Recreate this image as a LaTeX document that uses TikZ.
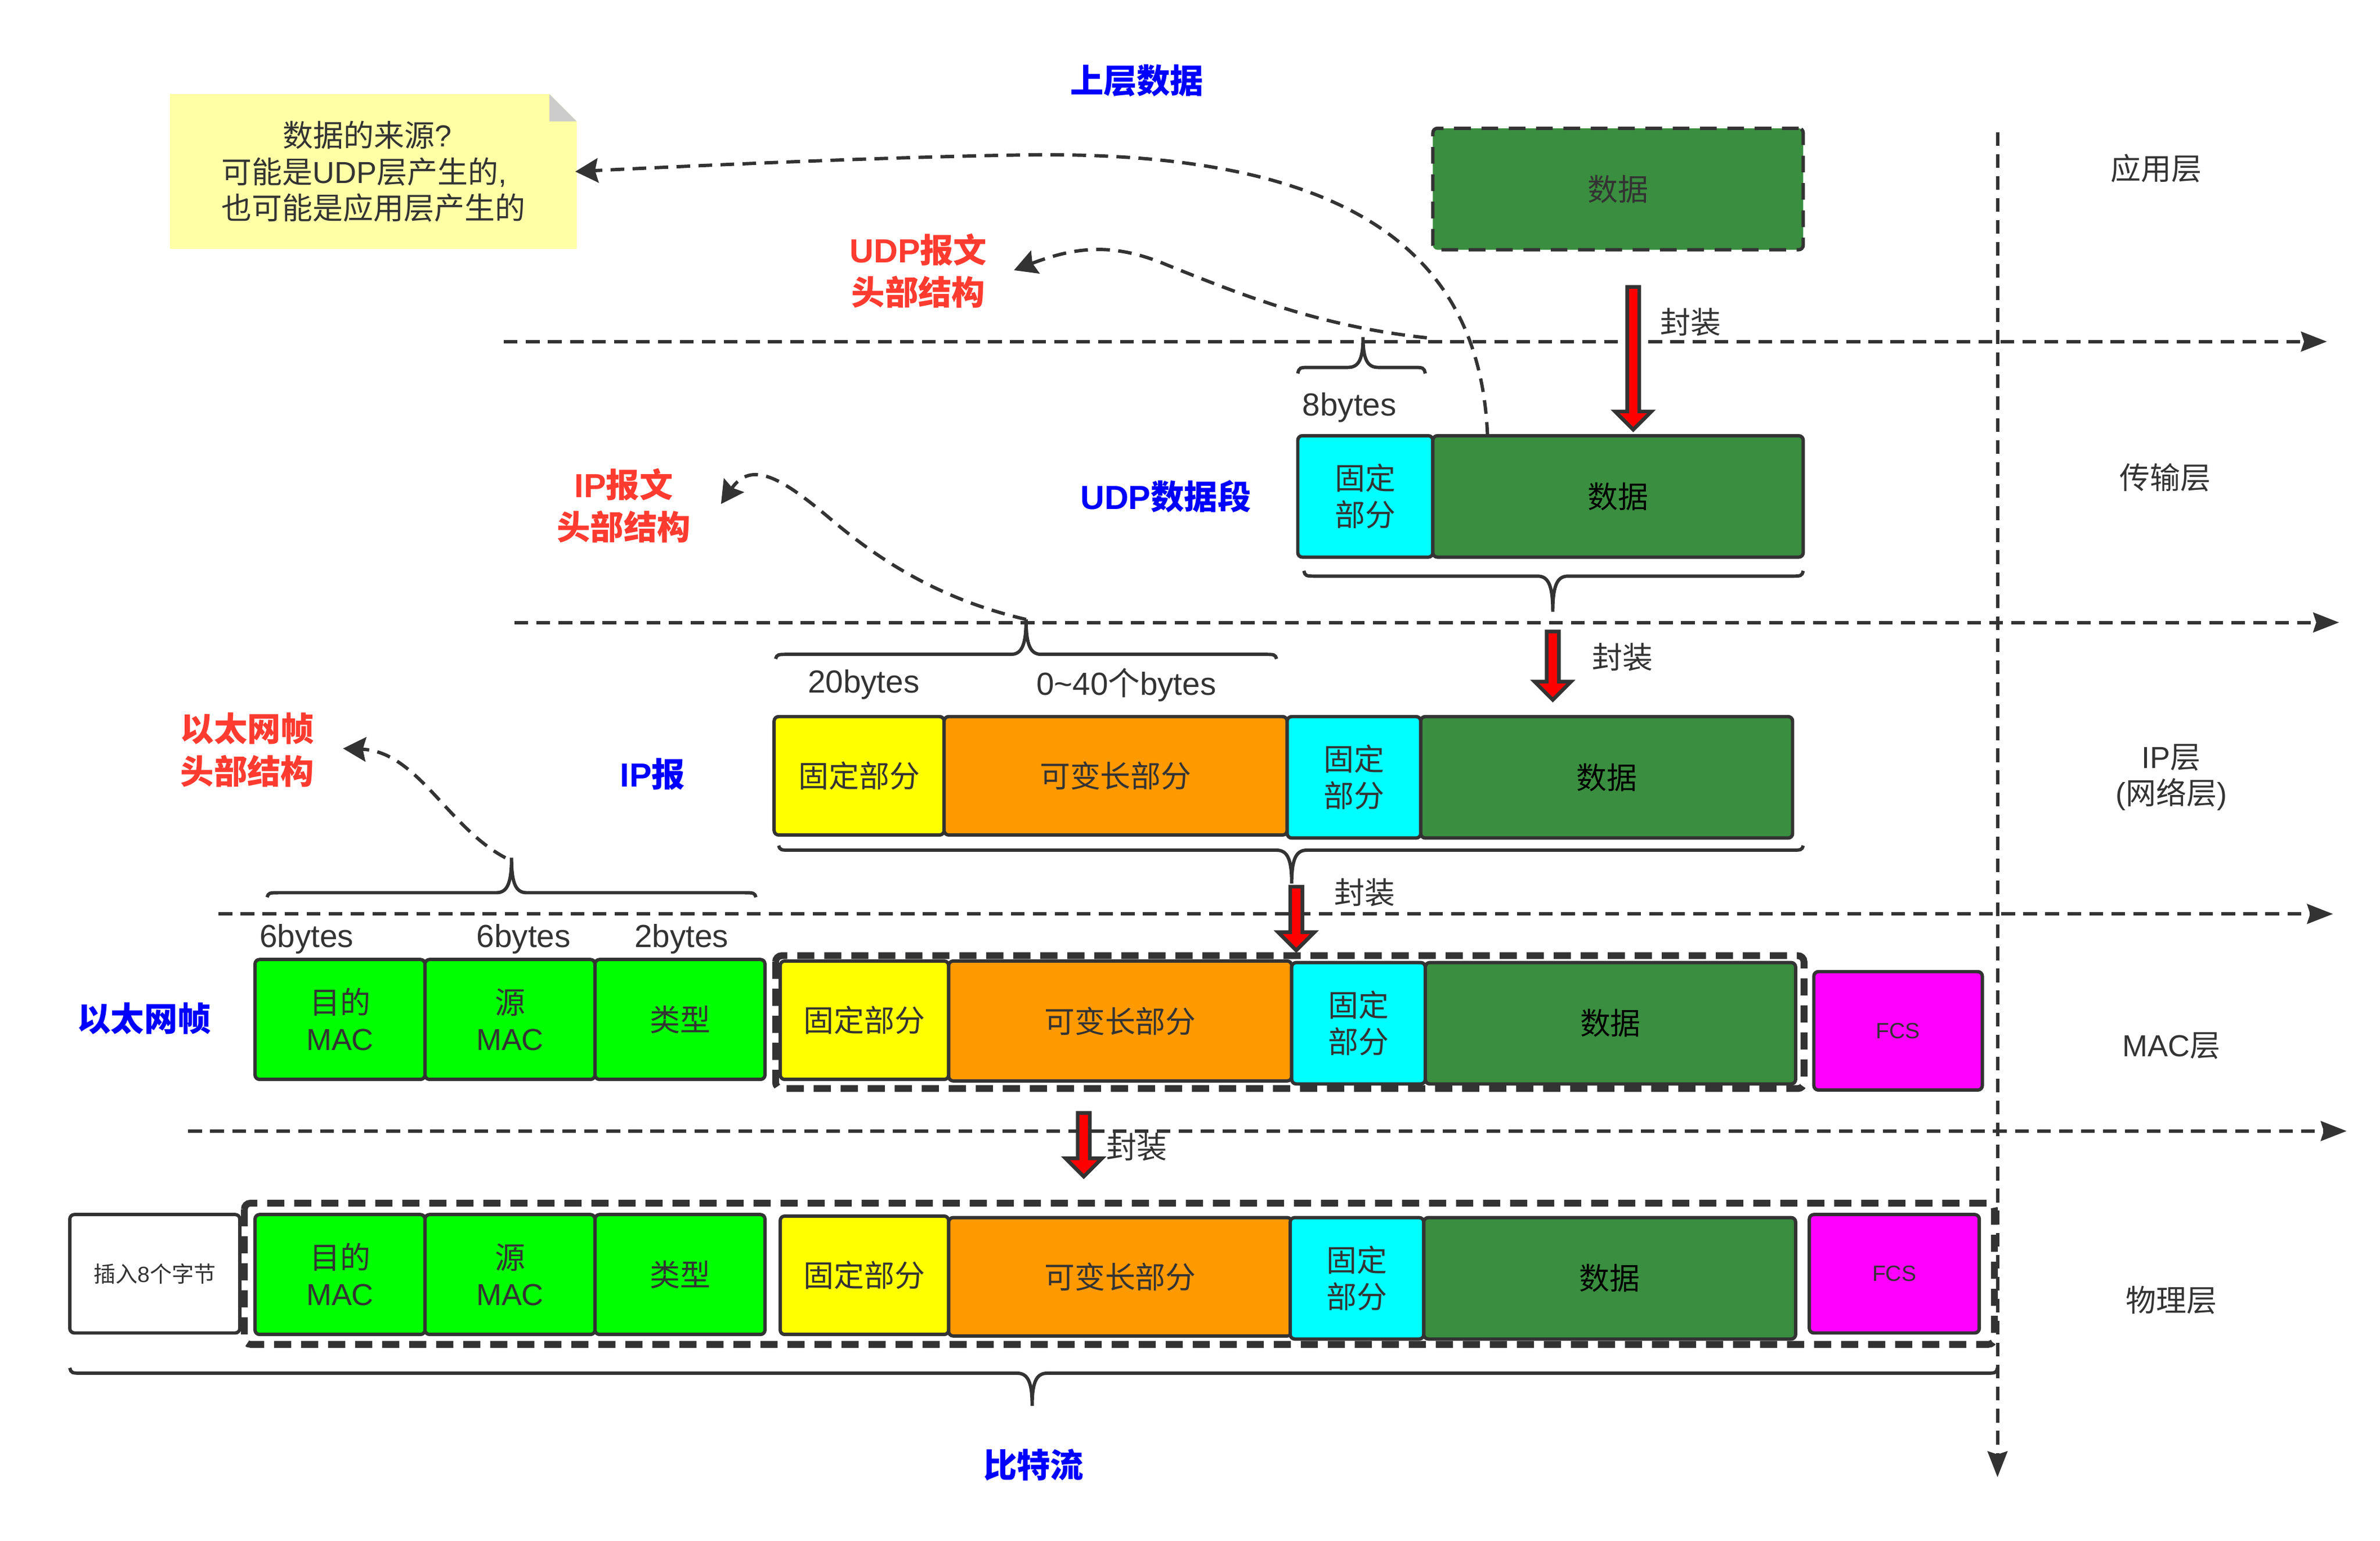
\documentclass[tikz,border=0pt]{standalone}
\usepackage{fontspec}
\setmainfont{Liberation Sans}
\newfontfamily\cjk{Noto Sans CJK SC}
\usetikzlibrary{arrows.meta}
\newcommand\zh[1]{{\cjk #1}}
\definecolor{ink}{HTML}{333333}
\definecolor{dgreen}{HTML}{3A8E3F}
\definecolor{lab}{HTML}{FF3B30}
\definecolor{notey}{HTML}{FFFFA6}
\definecolor{orng}{HTML}{FF9900}
\definecolor{fyel}{RGB}{255,255,0}
\definecolor{fcyn}{RGB}{0,255,255}
\definecolor{fmag}{RGB}{255,0,255}
\definecolor{fgrn}{RGB}{0,255,0}
\definecolor{fred}{RGB}{255,0,0}
\definecolor{fblu}{RGB}{0,0,255}
\definecolor{fold}{RGB}{204,204,204}
\tikzset{
  x=1pt,y=-1pt,
  txt/.style={text=ink,align=center,inner sep=0pt,font=\fontsize{20}{24}\selectfont},
  bytes/.style={txt,font=\fontsize{21}{24}\selectfont},
  bluelab/.style={txt,text=fblu,font=\fontsize{22}{28}\selectfont\bfseries},
  redlab/.style={txt,text=lab,font=\fontsize{22}{28}\selectfont\bfseries},
  box/.style={draw=ink,line width=2.2pt,rounded corners=3pt,inner sep=0pt,align=center,text=ink,font=\fontsize{20}{24}\selectfont},
  sep/.style={draw=ink,line width=2.2pt,dash pattern=on 9pt off 5.5pt,-{Stealth[length=17pt,width=13pt,inset=2pt]}},
  curve/.style={draw=ink,line width=2.2pt,dash pattern=on 9pt off 5.5pt,-{Stealth[length=15pt,width=16pt,inset=2pt]}},
  heavy/.style={draw=ink,line width=4.5pt,dash pattern=on 11.3pt off 6.5pt,rounded corners=4pt},
  brc/.style={draw=ink,line width=2.2pt},
  blockarrow/.style={draw=ink,line width=2.4pt,fill=fred,miter limit=10},
}
% name, x1, y1, x2, y2, fill, text
\newcommand\bx[7]{%
  \pgfmathsetmacro\bcx{(#2+#4)/2}\pgfmathsetmacro\bcy{(#3+#5)/2}%
  \pgfmathsetmacro\bw{#4-#2}\pgfmathsetmacro\bh{#5-#3}%
  \node[box,fill=#6,minimum width=\bw pt,minimum height=\bh pt] (#1) at (\bcx,\bcy) {#7};}
% x1, xm, x2, yend, y, ytip
\newcommand\curlyb[6]{%
  \pgfmathsetmacro\cq{#5+(#6-#5)*0.25}%
  \draw[brc] (#1,#4) .. controls (#1+1,#5) .. (#1+9,#5) -- (#2-10,#5)
    .. controls (#2-3,#5) and (#2,\cq) .. (#2,#6)
    .. controls (#2,\cq) and (#2+3,#5) .. (#2+10,#5) -- (#3-9,#5)
    .. controls (#3-1,#5) .. (#3,#4);}
% xc, ytop, ytip
\newcommand\redarrow[3]{%
  \draw[blockarrow] (#1-4,#2) -- (#1+4,#2) -- (#1+4,#3-12) -- (#1+12,#3-12) -- (#1,#3) -- (#1-12,#3-12) -- (#1-4,#3-12) -- cycle;}
\begin{document}
\begin{tikzpicture}
\useasboundingbox (0,0) rectangle (1568,1015);

% separators
\coordinate (s1a) at (332,225); \coordinate (s1b) at (1533,225);
\coordinate (s2a) at (339,410); \coordinate (s2b) at (1541,410);
\coordinate (s3a) at (144,602); \coordinate (s3b) at (1537,602);
\coordinate (s4a) at (124,745); \coordinate (s4b) at (1546,745);
\coordinate (va) at (1316,87);  \coordinate (vb) at (1316,973);
\draw[sep] (s1a) -- (s1b);
\draw[sep] (s2a) -- (s2b);
\draw[sep] (s3a) -- (s3b);
\draw[sep] (s4a) -- (s4b);
\draw[sep] (va) -- (vb);

% note
\fill[notey] (112,62) -- (362,62) -- (380,80) -- (380,164) -- (112,164) -- cycle;
\fill[fold] (362,62) -- (380,80) -- (362,80) -- cycle;
\node[txt] (note) at (246,113) {\zh{数据的来源}?\rule{8pt}{0pt}\\\zh{可能是}UDP\zh{层产生的},\rule{12pt}{0pt}\\\zh{也可能是应用层产生的}};
\coordinate (notee) at (379,113);

% heavy dashed frames
\draw[heavy] (511,629.5) rectangle (1188.5,717);
\draw[heavy] (161,792.5) rectangle (1314,885.5);

% application layer
\node[box,fill=dgreen,dash pattern=on 11pt off 7pt,minimum width=244pt,minimum height=80pt] (app) at (1066,124.5) {\zh{数据}};

% UDP row
\bx{ucy}{855}{287}{944}{367}{fcyn}{\zh{固定}\\\zh{部分}}
\bx{ugr}{944}{287}{1188}{367}{dgreen}{\textcolor{black}{\zh{数据}}}

% IP row
\bx{iy}{510}{472}{622}{550}{fyel}{\zh{固定部分}}
\bx{io}{622}{472}{848}{550}{orng}{\zh{可变长部分}}
\bx{icy}{848}{472}{936}{552}{fcyn}{\zh{固定}\\\zh{部分}}
\bx{igr}{936}{472}{1181}{552}{dgreen}{\textcolor{black}{\zh{数据}}}

% MAC row
\bx{m1}{168}{632}{280}{711}{fgrn}{\zh{目的}\\MAC}
\bx{m2}{280}{632}{392}{711}{fgrn}{\zh{源}\\MAC}
\bx{m3}{392}{632}{504}{711}{fgrn}{\zh{类型}}
\bx{my}{514}{633}{625}{711}{fyel}{\zh{固定部分}}
\bx{mo}{625}{633}{851}{712}{orng}{\zh{可变长部分}}
\bx{mcy}{851}{634}{939}{714}{fcyn}{\zh{固定}\\\zh{部分}}
\bx{mgr}{939}{634}{1183}{714}{dgreen}{\textcolor{black}{\zh{数据}}}
\bx{mf}{1195}{640}{1306}{718}{fmag}{\fontsize{14.5}{17}\selectfont FCS}

% physical row
\bx{pw}{46}{800}{158}{878}{white}{\fontsize{14.5}{17}\selectfont\zh{插入}8\zh{个字节}}
\bx{p1}{168}{800}{280}{879}{fgrn}{\zh{目的}\\MAC}
\bx{p2}{280}{800}{392}{879}{fgrn}{\zh{源}\\MAC}
\bx{p3}{392}{800}{504}{879}{fgrn}{\zh{类型}}
\bx{py}{514}{801}{625}{879}{fyel}{\zh{固定部分}}
\bx{po}{625}{802}{851}{880}{orng}{\zh{可变长部分}}
\bx{pcy}{850}{802}{938}{882}{fcyn}{\zh{固定}\\\zh{部分}}
\bx{pgr}{938}{802}{1183}{882}{dgreen}{\textcolor{black}{\zh{数据}}}
\bx{pf}{1192}{800}{1304}{878}{fmag}{\fontsize{14.5}{17}\selectfont FCS}

% braces
\curlyb{855}{898}{939}{246}{242}{222}
\curlyb{859}{1023}{1188}{376}{379.5}{403}
\curlyb{511}{676}{841}{434}{431}{408}
\curlyb{513}{851}{1188}{557}{560}{582}
\curlyb{176}{337}{498}{591}{588}{565}
\curlyb{46}{680}{1316}{901}{904.5}{926}

% red arrows
\redarrow{1076}{189}{283}
\redarrow{1023}{416}{461}
\redarrow{854}{584}{626}
\redarrow{714}{733}{775}

% curves
\coordinate (c1s) at (980,287);
\coordinate (c2s) at (940,222.5);
\coordinate (c2e) at (668,178);
\coordinate (c3s) at (676,408);
\coordinate (c3e) at (475,332);
\coordinate (c4s) at (333,565);
\coordinate (c4e) at (226,493);
\draw[curve] (c1s) .. controls (975,160) and (880,100) .. (680,102) .. controls (600,103) and (480,108) .. (notee);
\draw[curve] (c2s) .. controls (870,215) and (820,195) .. (770,175) .. controls (735,160) and (710,162) .. (c2e);
\draw[curve] (c3s) .. controls (620,395) and (580,370) .. (545,340) .. controls (515,315) and (495,303) .. (c3e);
\draw[curve] (c4s) .. controls (295,545) and (275,495) .. (c4e);

% blue labels
\node[bluelab] (t1) at (749,53) {\zh{上层数据}};
\node[bluelab] (t2) at (768,327) {UDP\zh{数据段}};
\node[bluelab] (t3) at (430,510) {IP\zh{报}};
\node[bluelab] (t4) at (95,671) {\zh{以太网帧}};
\node[bluelab] (t5) at (681,965) {\zh{比特流}};

% red labels
\node[redlab] (r1) at (605,178.5) {UDP\zh{报文}\\\zh{头部结构}};
\node[redlab] (r2) at (411,333) {IP\zh{报文}\\\zh{头部结构}};
\node[redlab] (r3) at (163,494) {\zh{以太网帧}\\\zh{头部结构}};

% layers
\node[txt] (l1) at (1420.7,111) {\zh{应用层}};
\node[txt] (l2) at (1426.5,314.5) {\zh{传输层}};
\node[txt] (l3) at (1430.5,512) {IP\zh{层}\\(\zh{网络层})};
\node[txt] (l4) at (1430.5,689) {MAC\zh{层}};
\node[txt] (l5) at (1430.5,856.5) {\zh{物理层}};

% encapsulation
\node[txt] (e1) at (1114,212) {\zh{封装}};
\node[txt] (e2) at (1069,433) {\zh{封装}};
\node[txt] (e3) at (899,588) {\zh{封装}};
\node[txt] (e4) at (749,755.5) {\zh{封装}};

% byte labels
\node[bytes] (b1) at (889,268.5) {8bytes};
\node[bytes] (b2) at (569,451) {20bytes};
\node[bytes] (b3) at (742,451) {0\textasciitilde 40\zh{个}bytes};
\node[bytes] (b4) at (202,618.5) {6bytes};
\node[bytes] (b5) at (345,618.5) {6bytes};
\node[bytes] (b6) at (449,618.5) {2bytes};
\end{tikzpicture}
\end{document}
